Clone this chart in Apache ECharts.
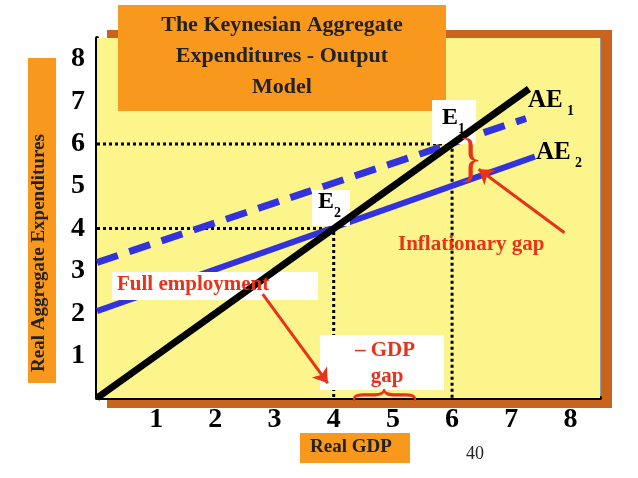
<!DOCTYPE html><html><head><meta charset="utf-8"><script src="https://cdn.jsdelivr.net/npm/echarts@6/dist/echarts.min.js"></script>
<style>body{margin:0}#c{width:638px;height:478px}</style></head><body><div id="c"></div><script>
const xTicks=[1,2,3,4,5,6,7,8];
const yTicks=[1,2,3,4,5,6,7,8];
const line45=[[0,0],[7.3,7.3]];
const ae1=[[0,3.2],[7.25,6.6]];
const ae2=[[0,2.05],[7.4,5.7]];
const dot6=[[0,6],[6,6],[6,0]];
const dot4=[[0,4],[4,4],[4,0]];
const F='"Liberation Serif","DejaVu Serif",serif';
const chart=echarts.init(document.getElementById('c'));
const box=(l,t,w,h,fill)=>({type:'rect',left:l,top:t,shape:{width:w,height:h},style:{fill:fill},z:5});
const txt=(l,t,s,size,color)=>({type:'text',left:l,top:t,z:10,style:{text:s,font:'bold '+size+'px '+F,fill:color}});
const lab={fontSize:28,fontWeight:'bold',fontFamily:F,color:'#000'};
chart.setOption({
animation:false,backgroundColor:'#fff',
grid:{left:97,right:38,top:38,bottom:80,show:true,backgroundColor:'#fbf58c',borderWidth:0,z:1},
xAxis:{type:'value',min:0,max:8.5,interval:1,axisLine:{lineStyle:{color:'#000',width:4}},axisTick:{show:false},
 splitLine:{lineStyle:{color:'#999',width:1}},axisLabel:Object.assign({margin:8,formatter:v=>xTicks.includes(v)?v:''},lab)},
yAxis:{type:'value',min:0,max:8.5,interval:1,axisLine:{show:true,lineStyle:{color:'#000',width:4}},axisTick:{show:false},
 splitLine:{lineStyle:{color:'#999',width:1}},axisLabel:Object.assign({margin:12,formatter:v=>yTicks.includes(v)?v:''},lab)},
series:[
{type:'line',data:dot6,symbol:'none',lineStyle:{color:'#000',width:3,type:[3,3]},z:3},
{type:'line',data:dot4,symbol:'none',lineStyle:{color:'#000',width:3,type:[3,3]},z:3},
{type:'line',data:ae2,symbol:'none',lineStyle:{color:'#3333dd',width:6},z:4},
{type:'line',data:ae1,symbol:'none',lineStyle:{color:'#3333dd',width:7,type:[22,12]},z:4},
{type:'line',data:line45,symbol:'none',lineStyle:{color:'#000',width:7},z:5,
 markLine:{silent:true,symbol:['none','arrow'],symbolSize:14,lineStyle:{color:'#e8331a',width:3,type:'solid'},label:{show:false},
 data:[[{coord:[7.9,3.9]},{coord:[6.45,5.4]}],[{coord:[2.8,2.45]},{coord:[3.9,0.35]}]]}}
],
graphic:[
{type:'rect',left:107,top:30,shape:{width:505,height:378},style:{fill:'#c8641e'},z:-1,silent:true},
box(118,5,328,106,'#f8981d'),
{type:'text',x:282,y:10,z:10,style:{text:'The Keynesian Aggregate\nExpenditures - Output\nModel',font:'bold 22px '+F,fill:'#222',align:'center',lineHeight:31}},
box(28,58,28,325,'#f8981d'),
{type:'text',x:30,y:372,rotation:Math.PI/2,z:10,style:{text:'Real Aggregate Expenditures',font:'bold 19px '+F,fill:'#222'}},
box(300,433,110,30,'#f8981d'),
txt(310,438,'Real GDP',19,'#222'),
{type:'text',left:466,top:445,z:10,style:{text:'40',font:'18px '+F,fill:'#222'}},
box(432,100,44,44,'#fff'),
txt(442,106,'E',24,'#000'),txt(458,122,'1',14,'#000'),
box(312,190,38,36,'#fff'),
txt(318,190,'E',24,'#000'),txt(334,206,'2',14,'#000'),
txt(528,88,'AE',25,'#000'),txt(567,104,'1',14,'#000'),
txt(536,140,'AE',25,'#000'),txt(575,156,'2',14,'#000'),
txt(398,234,'Inflationary gap',21,'#e8331a'),
box(112,272,206,28,'#fff'),
txt(117,274,'Full employment',21,'#e8331a'),
box(320,335,124,55,'#fff'),
{type:'text',left:355,top:338,z:10,style:{text:'– GDP\n   gap',font:'bold 21px '+F,fill:'#e8331a',lineHeight:26}},
{type:'text',left:458,top:135,z:10,style:{text:'}',font:'52px '+F,fill:'#e8331a'}},
{type:'text',x:386,y:395,rotation:Math.PI/2,z:10,scaleY:1.9,style:{text:'}',font:'40px '+F,fill:'#e8331a',align:'center',verticalAlign:'middle'}}
]});
</script></body></html>
